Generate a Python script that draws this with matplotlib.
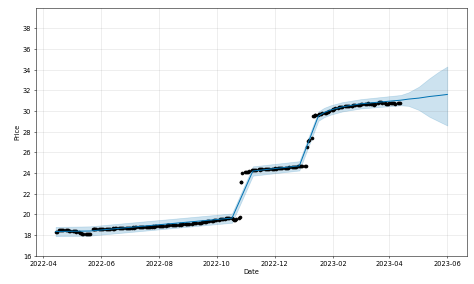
import matplotlib
matplotlib.use('Agg')
import matplotlib.pyplot as plt
import matplotlib.dates as mdates
import pandas as pd

## observed prices, one value per business day starting 2022-04-14
price_weeks = [
    [18.30, 18.35],
    [18.45, 18.50, 18.52, 18.50, 18.48],
    [18.47, 18.45, 18.46, 18.44, 18.42],
    [18.40, 18.41, 18.38, 18.36, 18.35],
    [18.30, 18.22, 18.18, 18.15, 18.14],
    [18.12, 18.13, 18.12, 18.15, 18.14],
    [18.55, 18.58, 18.56, 18.57, 18.58],
    [18.57, 18.58, 18.60, 18.58, 18.59],
    [18.60, 18.61, 18.62, 18.60, 18.62],
    [18.63, 18.65, 18.64, 18.66, 18.65],
    [18.66, 18.67, 18.68, 18.66, 18.68],
    [18.70, 18.69, 18.71, 18.72, 18.70],
    [18.72, 18.74, 18.73, 18.75, 18.74],
    [18.76, 18.75, 18.77, 18.78, 18.77],
    [18.79, 18.80, 18.79, 18.81, 18.82],
    [18.82, 18.84, 18.83, 18.85, 18.86],
    [18.87, 18.86, 18.88, 18.90, 18.89],
    [18.92, 18.95, 18.97, 18.96, 18.98],
    [18.97, 18.99, 19.00, 19.01, 19.00],
    [19.02, 19.03, 19.02, 19.04, 19.05],
    [19.06, 19.08, 19.07, 19.09, 19.10],
    [19.12, 19.14, 19.15, 19.17, 19.18],
    [19.20, 19.22, 19.21, 19.24, 19.25],
    [19.28, 19.30, 19.32, 19.33, 19.35],
    [19.37, 19.40, 19.42, 19.44, 19.45],
    [19.48, 19.52, 19.55, 19.56, 19.58],
    [19.60, 19.62, 19.63, 19.64, 19.63],
    [19.62, 19.55, 19.48, 19.50, 19.60],
    [19.68, 19.72, 23.10, 23.12, 24.05],
    [24.08, 24.10, 24.12, 24.15, 24.20],
    [24.25, 24.28, 24.30, 24.32, 24.33],
    [24.35, 24.33, 24.36, 24.38, 24.37],
    [24.40, 24.38, 24.41, 24.39, 24.42],
    [24.40, 24.43, 24.42, 24.45, 24.44],
    [24.46, 24.45, 24.47, 24.48, 24.46],
    [24.50, 24.52, 24.51, 24.53, 24.55],
    [24.56, 24.58, 24.60, 24.62, 24.63],
    [24.65, 24.66, 24.68, 24.70, 24.70],
    [24.72, 24.70, 26.50, 27.10, 27.20],
    [27.40, 29.50, 29.55, 29.60, 29.62],
    [29.65, 29.70, 29.72, 29.75, 29.78],
    [29.82, 29.85, 29.90, 29.95, 30.00],
    [30.05, 30.10, 30.15, 30.20, 30.25],
    [30.30, 30.35, 30.38, 30.40, 30.42],
    [30.45, 30.47, 30.48, 30.50, 30.50],
    [30.52, 30.53, 30.55, 30.54, 30.56],
    [30.58, 30.60, 30.62, 30.65, 30.68],
    [30.70, 30.72, 30.71, 30.73, 30.72],
    [30.70, 30.68, 30.65, 30.62, 30.63],
    [30.75, 30.85, 30.90, 30.88, 30.80],
    [30.75, 30.72, 30.70, 30.72, 30.74],
    [30.73, 30.75, 30.76, 30.74, 30.72],
    [30.75, 30.78, 30.80],
]
price = [v for week in price_weeks for v in week]
obs_dates = pd.bdate_range('2022-04-14', periods=len(price))

## forecast (yhat) and uncertainty interval at the points where it bends
fc_dates = pd.to_datetime([
    '2022-04-14', '2022-05-20', '2022-10-17', '2022-11-08', '2022-12-27',
    '2023-01-16', '2023-01-22', '2023-01-29', '2023-02-10', '2023-03-02',
    '2023-04-13', '2023-04-21', '2023-05-02', '2023-05-13', '2023-05-23',
    '2023-06-01'])
yhat = [18.35, 18.40, 19.65, 24.20, 24.70,
        29.50, 29.85, 30.10, 30.40, 30.70,
        31.05, 31.15, 31.25, 31.40, 31.50,
        31.60]
yhat_lower = [17.90, 17.95, 19.20, 23.75, 24.25,
              29.05, 29.40, 29.65, 29.95, 30.25,
              30.55, 30.50, 30.10, 29.45, 29.00,
              28.60]
yhat_upper = [18.80, 18.85, 20.10, 24.65, 25.15,
              29.95, 30.30, 30.55, 30.85, 31.15,
              31.55, 31.80, 32.35, 33.15, 33.80,
              34.30]

fig = plt.figure(facecolor='w', figsize=(10, 6), dpi=47.4)
ax = fig.add_subplot(111)
ax.plot(obs_dates, price, 'k.', ms=9, label='Observed data points')
ax.plot(fc_dates, yhat, ls='-', c='#0072B2', label='Forecast')
ax.fill_between(fc_dates, yhat_lower, yhat_upper, color='#0072B2', alpha=0.2,
                label='Uncertainty interval')
ax.grid(True, which='major', c='gray', ls='-', lw=1, alpha=0.2)
ax.xaxis.set_major_locator(mdates.MonthLocator(bymonth=[2, 4, 6, 8, 10, 12]))
ax.xaxis.set_major_formatter(mdates.DateFormatter('%Y-%m'))
ax.set_ylim(16, 40)
ax.set_yticks(range(16, 40, 2))
ax.set_xlabel('Date')
ax.set_ylabel('Price')
fig.subplots_adjust(left=0.076, right=0.985, top=0.972, bottom=0.099)
fig.savefig('out.png', dpi=47.4)
